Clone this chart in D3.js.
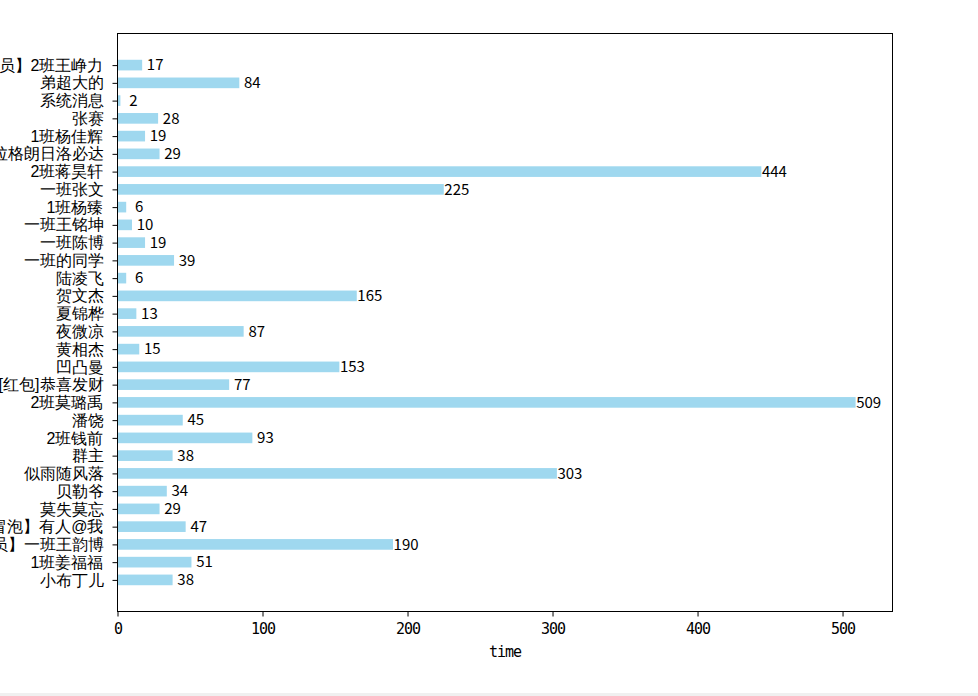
<!DOCTYPE html>
<html><head><meta charset="utf-8">
<script src="https://cdn.jsdelivr.net/npm/d3@7"></script>
<style>
html,body{margin:0;padding:0;background:#fff;}
svg{display:block;font-family:"Noto Sans CJK SC","DejaVu Sans",sans-serif;}
</style></head>
<body><svg id="c" width="978" height="696"></svg>
<script>
const names = ["小布丁儿","1班姜福福","【管理员】一班王韵博","【冒泡】有人@我","莫失莫忘","贝勒爷","似雨随风落","群主","2班钱前","潘饶","2班莫璐禹","[红包]恭喜发财","凹凸曼","黄相杰","夜微凉","夏锦桦","贺文杰","陆凌飞","一班的同学","一班陈博","一班王铭坤","1班杨臻","一班张文","2班蒋昊轩","拉格朗日洛必达","1班杨佳辉","张赛","系统消息","弟超大的","【管理员】2班王峥力"];
const counts = [38,51,190,47,29,34,303,38,93,45,509,77,153,15,87,13,165,6,39,19,10,6,225,444,29,19,28,2,84,17];
const xTicks = [0,100,200,300,400,500];
const xLabel = "time";

const svg = d3.select("#c");
const L = 117.5, R = 892.5, T = 33.5, B = 611.5;
const maxV = d3.max(counts);
const x = d3.scaleLinear().domain([0, maxV * 1.05]).range([L, R]);
const n = names.length;
const h = 0.6;
const pad = (n - 1 + h) * 0.05;
const y = d3.scaleLinear().domain([-h/2 - pad, n - 1 + h/2 + pad]).range([B, T]);

// bottom gray strip
svg.append("rect").attr("x",0).attr("y",693).attr("width",978).attr("height",3).attr("fill","#f0f0f0");

// bars
svg.append("g").selectAll("rect").data(counts).join("rect")
  .attr("x", x(0))
  .attr("y", (d,i) => y(i + h/2))
  .attr("width", d => x(d) - x(0))
  .attr("height", (d,i) => y(i - h/2) - y(i + h/2))
  .attr("fill", "#9fd8ef");

// value labels
svg.append("g").selectAll("text").data(counts).join("text")
  .attr("x", d => x(d + 9))
  .attr("y", (d,i) => y(i))
  .attr("dy", "0.35em")
  .attr("text-anchor", "middle")
  .attr("font-size", 15)
  .attr("fill", "#000")
  .text(d => d);

// x axis
const xa = svg.append("g").attr("transform", `translate(0,${B})`)
  .call(d3.axisBottom(x).tickValues(xTicks).tickSize(5).tickPadding(7).tickFormat(d3.format("d")));
xa.select(".domain").remove();
xa.selectAll("text").attr("font-size", 15).attr("fill","#000").attr("font-family","'DejaVu Sans Mono','Noto Sans CJK SC',monospace").style("letter-spacing","-1px");
xa.selectAll("line").attr("stroke","#000");

// y axis
const ya = svg.append("g").attr("transform", `translate(${L},0)`)
  .call(d3.axisLeft(y).tickValues(d3.range(n)).tickSize(5).tickPadding(9).tickFormat(i => names[i]));
ya.select(".domain").remove();
ya.selectAll("text").attr("font-size", 16).attr("fill","#000");
ya.selectAll("line").attr("stroke","#000");

// frame
svg.append("rect").attr("x", L).attr("y", T).attr("width", R - L).attr("height", B - T)
  .attr("fill","none").attr("stroke","#000").attr("stroke-width",1);

// x label
svg.append("text").attr("x", (L + R) / 2).attr("y", 657)
  .attr("text-anchor","middle").attr("font-size",15)
  .attr("font-family","'DejaVu Sans Mono',monospace").style("letter-spacing","-1px")
  .text(xLabel);
</script></body></html>
